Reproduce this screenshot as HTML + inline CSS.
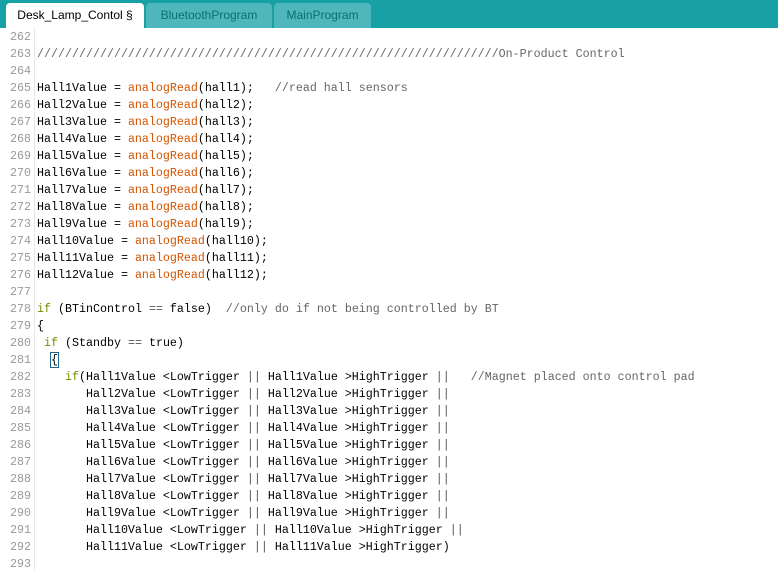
<!DOCTYPE html>
<html><head><meta charset="utf-8"><style>
body{margin:0;width:778px;height:570px;overflow:hidden;background:#fff;position:relative;font-family:"Liberation Sans",sans-serif}
.bar{position:absolute;left:0;top:0;width:778px;height:28px;background:#17a1a5}
.tab{position:absolute;top:3px;height:25px;border-radius:4px 4px 0 0;font-size:12px;line-height:25px;text-align:center}
.t1{left:6px;width:138px;background:#fff;color:#000}
.t2{left:146px;width:126px;background:#4db7bb;color:#0c6e72}
.t3{left:274px;width:97px;background:#4db7bb;color:#0c6e72}
.gut{position:absolute;left:34px;top:28px;width:1px;height:542px;background:#e8e8e8}
.ln{position:absolute;left:0;width:31px;text-align:right;font-family:"Liberation Mono",monospace;font-size:11.67px;color:#999;line-height:17px}
.c{position:absolute;left:37px;font-family:"Liberation Mono",monospace;font-size:11.67px;color:#000;line-height:17px;white-space:pre}
.k{color:#728e00}.f{color:#d35400}.m{color:#666}.o{color:#555}
.br{outline:1px solid #1a6a8a}
</style></head><body>
<div class="bar"></div>
<div class="tab t1">Desk_Lamp_Contol §</div>
<div class="tab t2">BluetoothProgram</div>
<div class="tab t3">MainProgram</div>
<div class="gut"></div>

<div class="ln" style="top:29px">262</div>
<div class="ln" style="top:46px">263</div><div class="c" style="top:46px"><span class="m">//////////////////////////////////////////////////////////////////On-Product Control</span></div>
<div class="ln" style="top:63px">264</div>
<div class="ln" style="top:80px">265</div><div class="c" style="top:80px">Hall1Value = <span class="f">analogRead</span>(hall1);   <span class="m">//read hall sensors</span></div>
<div class="ln" style="top:97px">266</div><div class="c" style="top:97px">Hall2Value = <span class="f">analogRead</span>(hall2);</div>
<div class="ln" style="top:114px">267</div><div class="c" style="top:114px">Hall3Value = <span class="f">analogRead</span>(hall3);</div>
<div class="ln" style="top:131px">268</div><div class="c" style="top:131px">Hall4Value = <span class="f">analogRead</span>(hall4);</div>
<div class="ln" style="top:148px">269</div><div class="c" style="top:148px">Hall5Value = <span class="f">analogRead</span>(hall5);</div>
<div class="ln" style="top:165px">270</div><div class="c" style="top:165px">Hall6Value = <span class="f">analogRead</span>(hall6);</div>
<div class="ln" style="top:182px">271</div><div class="c" style="top:182px">Hall7Value = <span class="f">analogRead</span>(hall7);</div>
<div class="ln" style="top:199px">272</div><div class="c" style="top:199px">Hall8Value = <span class="f">analogRead</span>(hall8);</div>
<div class="ln" style="top:216px">273</div><div class="c" style="top:216px">Hall9Value = <span class="f">analogRead</span>(hall9);</div>
<div class="ln" style="top:233px">274</div><div class="c" style="top:233px">Hall10Value = <span class="f">analogRead</span>(hall10);</div>
<div class="ln" style="top:250px">275</div><div class="c" style="top:250px">Hall11Value = <span class="f">analogRead</span>(hall11);</div>
<div class="ln" style="top:267px">276</div><div class="c" style="top:267px">Hall12Value = <span class="f">analogRead</span>(hall12);</div>
<div class="ln" style="top:284px">277</div>
<div class="ln" style="top:301px">278</div><div class="c" style="top:301px"><span class="k">if</span> (BTinControl <span class="o">==</span> false)  <span class="m">//only do if not being controlled by BT</span></div>
<div class="ln" style="top:318px">279</div><div class="c" style="top:318px">{</div>
<div class="ln" style="top:335px">280</div><div class="c" style="top:335px"> <span class="k">if</span> (Standby <span class="o">==</span> true)</div>
<div class="ln" style="top:352px">281</div><div class="c" style="top:352px">  <span class="br">{</span></div>
<div class="ln" style="top:369px">282</div><div class="c" style="top:369px">    <span class="k">if</span>(Hall1Value &lt;LowTrigger <span class="o">||</span> Hall1Value &gt;HighTrigger <span class="o">||</span>   <span class="m">//Magnet placed onto control pad</span></div>
<div class="ln" style="top:386px">283</div><div class="c" style="top:386px">       Hall2Value &lt;LowTrigger <span class="o">||</span> Hall2Value &gt;HighTrigger <span class="o">||</span></div>
<div class="ln" style="top:403px">284</div><div class="c" style="top:403px">       Hall3Value &lt;LowTrigger <span class="o">||</span> Hall3Value &gt;HighTrigger <span class="o">||</span></div>
<div class="ln" style="top:420px">285</div><div class="c" style="top:420px">       Hall4Value &lt;LowTrigger <span class="o">||</span> Hall4Value &gt;HighTrigger <span class="o">||</span></div>
<div class="ln" style="top:437px">286</div><div class="c" style="top:437px">       Hall5Value &lt;LowTrigger <span class="o">||</span> Hall5Value &gt;HighTrigger <span class="o">||</span></div>
<div class="ln" style="top:454px">287</div><div class="c" style="top:454px">       Hall6Value &lt;LowTrigger <span class="o">||</span> Hall6Value &gt;HighTrigger <span class="o">||</span></div>
<div class="ln" style="top:471px">288</div><div class="c" style="top:471px">       Hall7Value &lt;LowTrigger <span class="o">||</span> Hall7Value &gt;HighTrigger <span class="o">||</span></div>
<div class="ln" style="top:488px">289</div><div class="c" style="top:488px">       Hall8Value &lt;LowTrigger <span class="o">||</span> Hall8Value &gt;HighTrigger <span class="o">||</span></div>
<div class="ln" style="top:505px">290</div><div class="c" style="top:505px">       Hall9Value &lt;LowTrigger <span class="o">||</span> Hall9Value &gt;HighTrigger <span class="o">||</span></div>
<div class="ln" style="top:522px">291</div><div class="c" style="top:522px">       Hall10Value &lt;LowTrigger <span class="o">||</span> Hall10Value &gt;HighTrigger <span class="o">||</span></div>
<div class="ln" style="top:539px">292</div><div class="c" style="top:539px">       Hall11Value &lt;LowTrigger <span class="o">||</span> Hall11Value &gt;HighTrigger)</div>
<div class="ln" style="top:556px">293</div>
</body></html>
